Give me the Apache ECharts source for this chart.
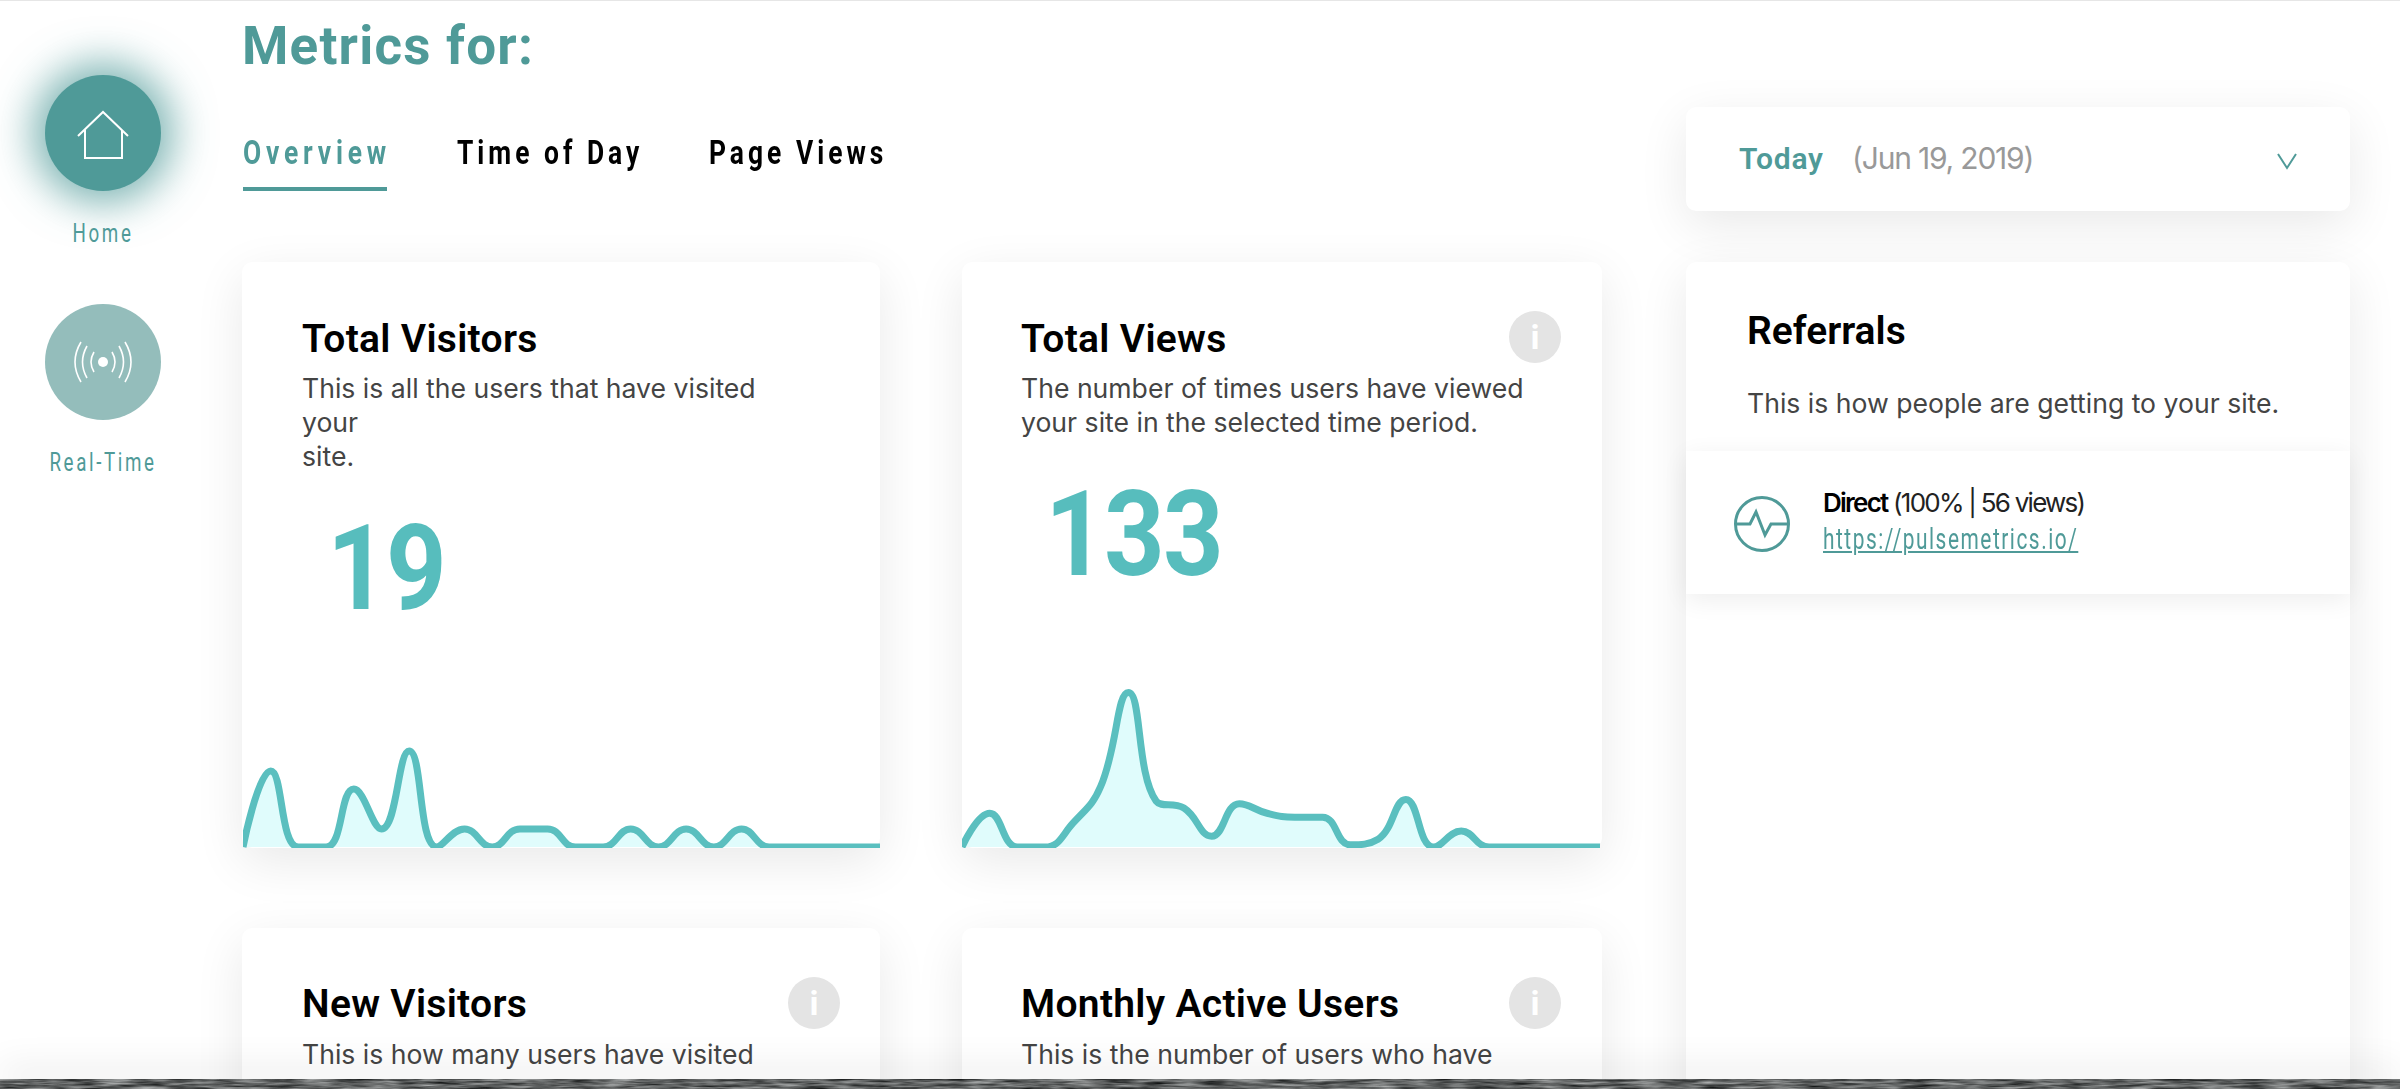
<!DOCTYPE html>
<html>
<head>
<meta charset="utf-8">
<script src="https://cdn.jsdelivr.net/npm/echarts@6/dist/echarts.min.js"></script>
<style>
  html, body { margin: 0; width: 2400px; height: 1089px; overflow: hidden; background: #fff; font-family: Inter, sans-serif; }
  .abs, .card, .txt { position: absolute; }
  .txt { white-space: nowrap; line-height: 1; }
  .card { background: #fff; border-radius: 10px; box-shadow: 0 14px 50px rgba(0,0,0,.09); }
  .head { font-family: Roboto; font-weight: 600; font-size: 39px; letter-spacing: .3px; color: #000; }
  .desc { font-family: Inter; font-weight: 400; font-size: 26.6px; color: #444; }
  .big { font-family: Roboto; font-weight: 700; font-size: 119px; color: #57bdbd; letter-spacing: -2px; transform: scaleX(.89); transform-origin: left; }
  .tab { font-family: Roboto; font-weight: 700; font-size: 33px; letter-spacing: 5px; color: #000; transform: scaleX(.8); transform-origin: left; }
  .nav { font-family: Roboto; font-size: 25px; letter-spacing: 3.5px; color: #4f9a98; transform: translateX(-50%) scaleX(.75); }
  .dot { width: 116px; height: 116px; border-radius: 50%; }
  .info { width: 52px; height: 52px; border-radius: 50%; background: #e4e4e4; color: #fff; font: 700 34px/52px Roboto; text-align: center; }
</style>
</head>
<body>
<div class="abs" style="left:0;top:0;width:2400px;height:1px;background:#e6e6e6"></div>

<!-- side nav -->
<div class="abs dot" style="left:45px;top:75px;background:#4f9a98;box-shadow:0 0 40px 12px rgba(79,154,152,.75)"></div>
<svg class="abs" style="left:75px;top:108px" width="56" height="56" viewBox="0 0 56 56" fill="none" stroke="#fff" stroke-width="2">
  <path d="M3 28 L28 4 L53 28 M10 22 V50 H47 V22"/>
</svg>
<div class="txt nav" style="left:103px;top:221px">Home</div>
<div class="abs dot" style="left:45px;top:304px;background:#94bdbb"></div>
<svg class="abs" style="left:73px;top:340px" width="60" height="44" viewBox="0 0 60 44" fill="none" stroke="#fff" stroke-width="1.6">
  <circle cx="30" cy="22" r="5" fill="#fff" stroke="none"/>
  <path d="M21 12 Q15 22 21 32 M39 12 Q45 22 39 32 M14 6 Q5 22 14 38 M46 6 Q55 22 46 38 M8 2 Q-4 22 8 42 M52 2 Q64 22 52 42"/>
</svg>
<div class="txt nav" style="left:103px;top:450px">Real-Time</div>

<!-- header -->
<div class="txt" style="left:242px;top:20px;font:700 53px/1 Roboto;letter-spacing:1.2px;color:#4f9a98">Metrics for:</div>
<div class="txt tab" style="left:243px;top:136px;letter-spacing:6px;color:#4f9a98">Overview</div>
<div class="txt tab" style="left:457px;top:136px">Time of Day</div>
<div class="txt tab" style="left:709px;top:136px">Page Views</div>
<div class="abs" style="left:243px;top:187px;width:144px;height:4px;background:#4f9a98"></div>

<!-- date picker -->
<div class="card" style="left:1686px;top:107px;width:664px;height:104px"></div>
<div class="txt" style="left:1739px;top:144px;font:600 30px/1 Roboto;letter-spacing:.8px;color:#4f9a98">Today</div>
<div class="txt" style="left:1852px;top:143px;font:400 30px/1 Inter;letter-spacing:-1.2px;color:#999">(Jun 19, 2019)</div>
<svg class="abs" style="left:2276px;top:152px" width="22" height="18" viewBox="0 0 22 18" fill="none" stroke="#4f9a98" stroke-width="2"><path d="M2 2 L11 16 L20 2"/></svg>

<!-- metric cards -->
<div class="card" style="left:242px;top:262px;width:638px;height:586px"></div>
<div class="txt head" style="left:302px;top:320px">Total Visitors</div>
<div class="txt desc" style="left:302px;top:375px">This is all the users that have visited</div>
<div class="txt desc" style="left:302px;top:409px">your</div>
<div class="txt desc" style="left:302px;top:443px">site.</div>
<div class="txt big" style="left:327px;top:509px">19</div>

<div class="card" style="left:962px;top:262px;width:640px;height:586px"></div>
<div class="txt head" style="left:1021px;top:320px">Total Views</div>
<div class="txt desc" style="left:1021px;top:375px">The number of times users have viewed</div>
<div class="txt desc" style="left:1021px;top:409px">your site in the selected time period.</div>
<div class="txt big" style="left:1045px;top:475px">133</div>
<div class="abs info" style="left:1509px;top:311px">i</div>

<!-- charts -->
<div id="visitorsChart" class="abs" style="left:243px;top:648px;width:637px;height:200px"></div>
<div id="viewsChart" class="abs" style="left:962px;top:648px;width:638px;height:200px"></div>

<div class="card" style="left:242px;top:928px;width:638px;height:300px"></div>
<div class="txt head" style="left:302px;top:985px">New Visitors</div>
<div class="txt desc" style="left:302px;top:1041px">This is how many users have visited</div>
<div class="abs info" style="left:788px;top:977px">i</div>

<div class="card" style="left:962px;top:928px;width:640px;height:300px"></div>
<div class="txt head" style="left:1021px;top:985px">Monthly Active Users</div>
<div class="txt desc" style="left:1021px;top:1041px">This is the number of users who have</div>
<div class="abs info" style="left:1509px;top:977px">i</div>

<!-- referrals -->
<div class="card" style="left:1686px;top:262px;width:664px;height:900px"></div>
<div class="txt head" style="left:1747px;top:312px;letter-spacing:0">Referrals</div>
<div class="txt desc" style="left:1747px;top:390px">This is how people are getting to your site.</div>
<div class="abs" style="left:1686px;top:451px;width:664px;height:143px;background:#fff;box-shadow:0 6px 24px rgba(0,0,0,.07)"></div>
<svg class="abs" style="left:1732px;top:494px" width="60" height="60" viewBox="0 0 60 60" fill="none" stroke="#4f9a98" stroke-width="3">
  <circle cx="30" cy="30" r="26.5"/><path d="M4 30 H18 L24 18 L33 41 L39 30 H56"/>
</svg>
<div class="txt" style="left:1823px;top:490px;font:400 26px/1 Inter;letter-spacing:-1.75px;color:#222"><b style="font-weight:600;color:#000">Direct</b> (100% | 56 views)</div>
<div class="txt" style="left:1823px;top:525px;font:400 29px/1 Roboto;letter-spacing:2.1px;color:#4f9a98;text-decoration:underline;transform:scaleX(.72);transform-origin:left">https://pulsemetrics.io/</div>

<!-- bit of the page photo showing at the bottom -->
<svg class="abs" style="left:0;top:1079px;box-shadow:0 -8px 36px rgba(0,0,0,.16)" width="2400" height="10">
  <filter id="rock" color-interpolation-filters="sRGB"><feTurbulence type="fractalNoise" baseFrequency="0.03 0.35" numOctaves="3" seed="4"/>
    <feColorMatrix values="0.8 0 0 0 -0.02  0.8 0 0 0 -0.01  0.8 0 0 0 -0.01  0 0 0 0 1"/></filter>
  <rect width="2400" height="10" filter="url(#rock)"/>
</svg>

<script>
var hours = ['00','01','02','03','04','05','06','07','08','09','10','11','12','13','14','15','16','17','18','19','20','21','22','23'];
var visitorsPerHour = [0, 4.2, 0, 0, 3.2, 1, 5.3, 0, 1, 0, 1, 1, 0, 0, 1, 0, 1, 0, 1, 0, 0, 0, 0, 0];
var viewsPerHour = [0, 7.8, 0, 0, 5.5, 14, 35.7, 10.6, 9, 2.5, 10, 7.8, 6.9, 6.9, 0.5, 1.8, 11, 0, 3.7, 0, 0, 0, 0, 0];

function sparkline(id, values, yMax) {
    var chart = echarts.init(document.getElementById(id));
    chart.setOption({
        animation: false,
        grid: { left: 0, right: 0, top: 0, bottom: 1 },
        xAxis: { type: 'category', data: hours, boundaryGap: false, show: false },
        yAxis: { type: 'value', min: 0, max: yMax, show: false },
        series: [{
            type: 'line',
            data: values,
            smooth: 0.45,
            clip: false,
            showSymbol: false,
            lineStyle: { color: '#5abfbf', width: 7 },
            areaStyle: { color: '#e0fcfc', opacity: 1 }
        }]
    });
}
sparkline('visitorsChart', visitorsPerHour, 11);
sparkline('viewsChart', viewsPerHour, 46);
</script>
</body>
</html>
